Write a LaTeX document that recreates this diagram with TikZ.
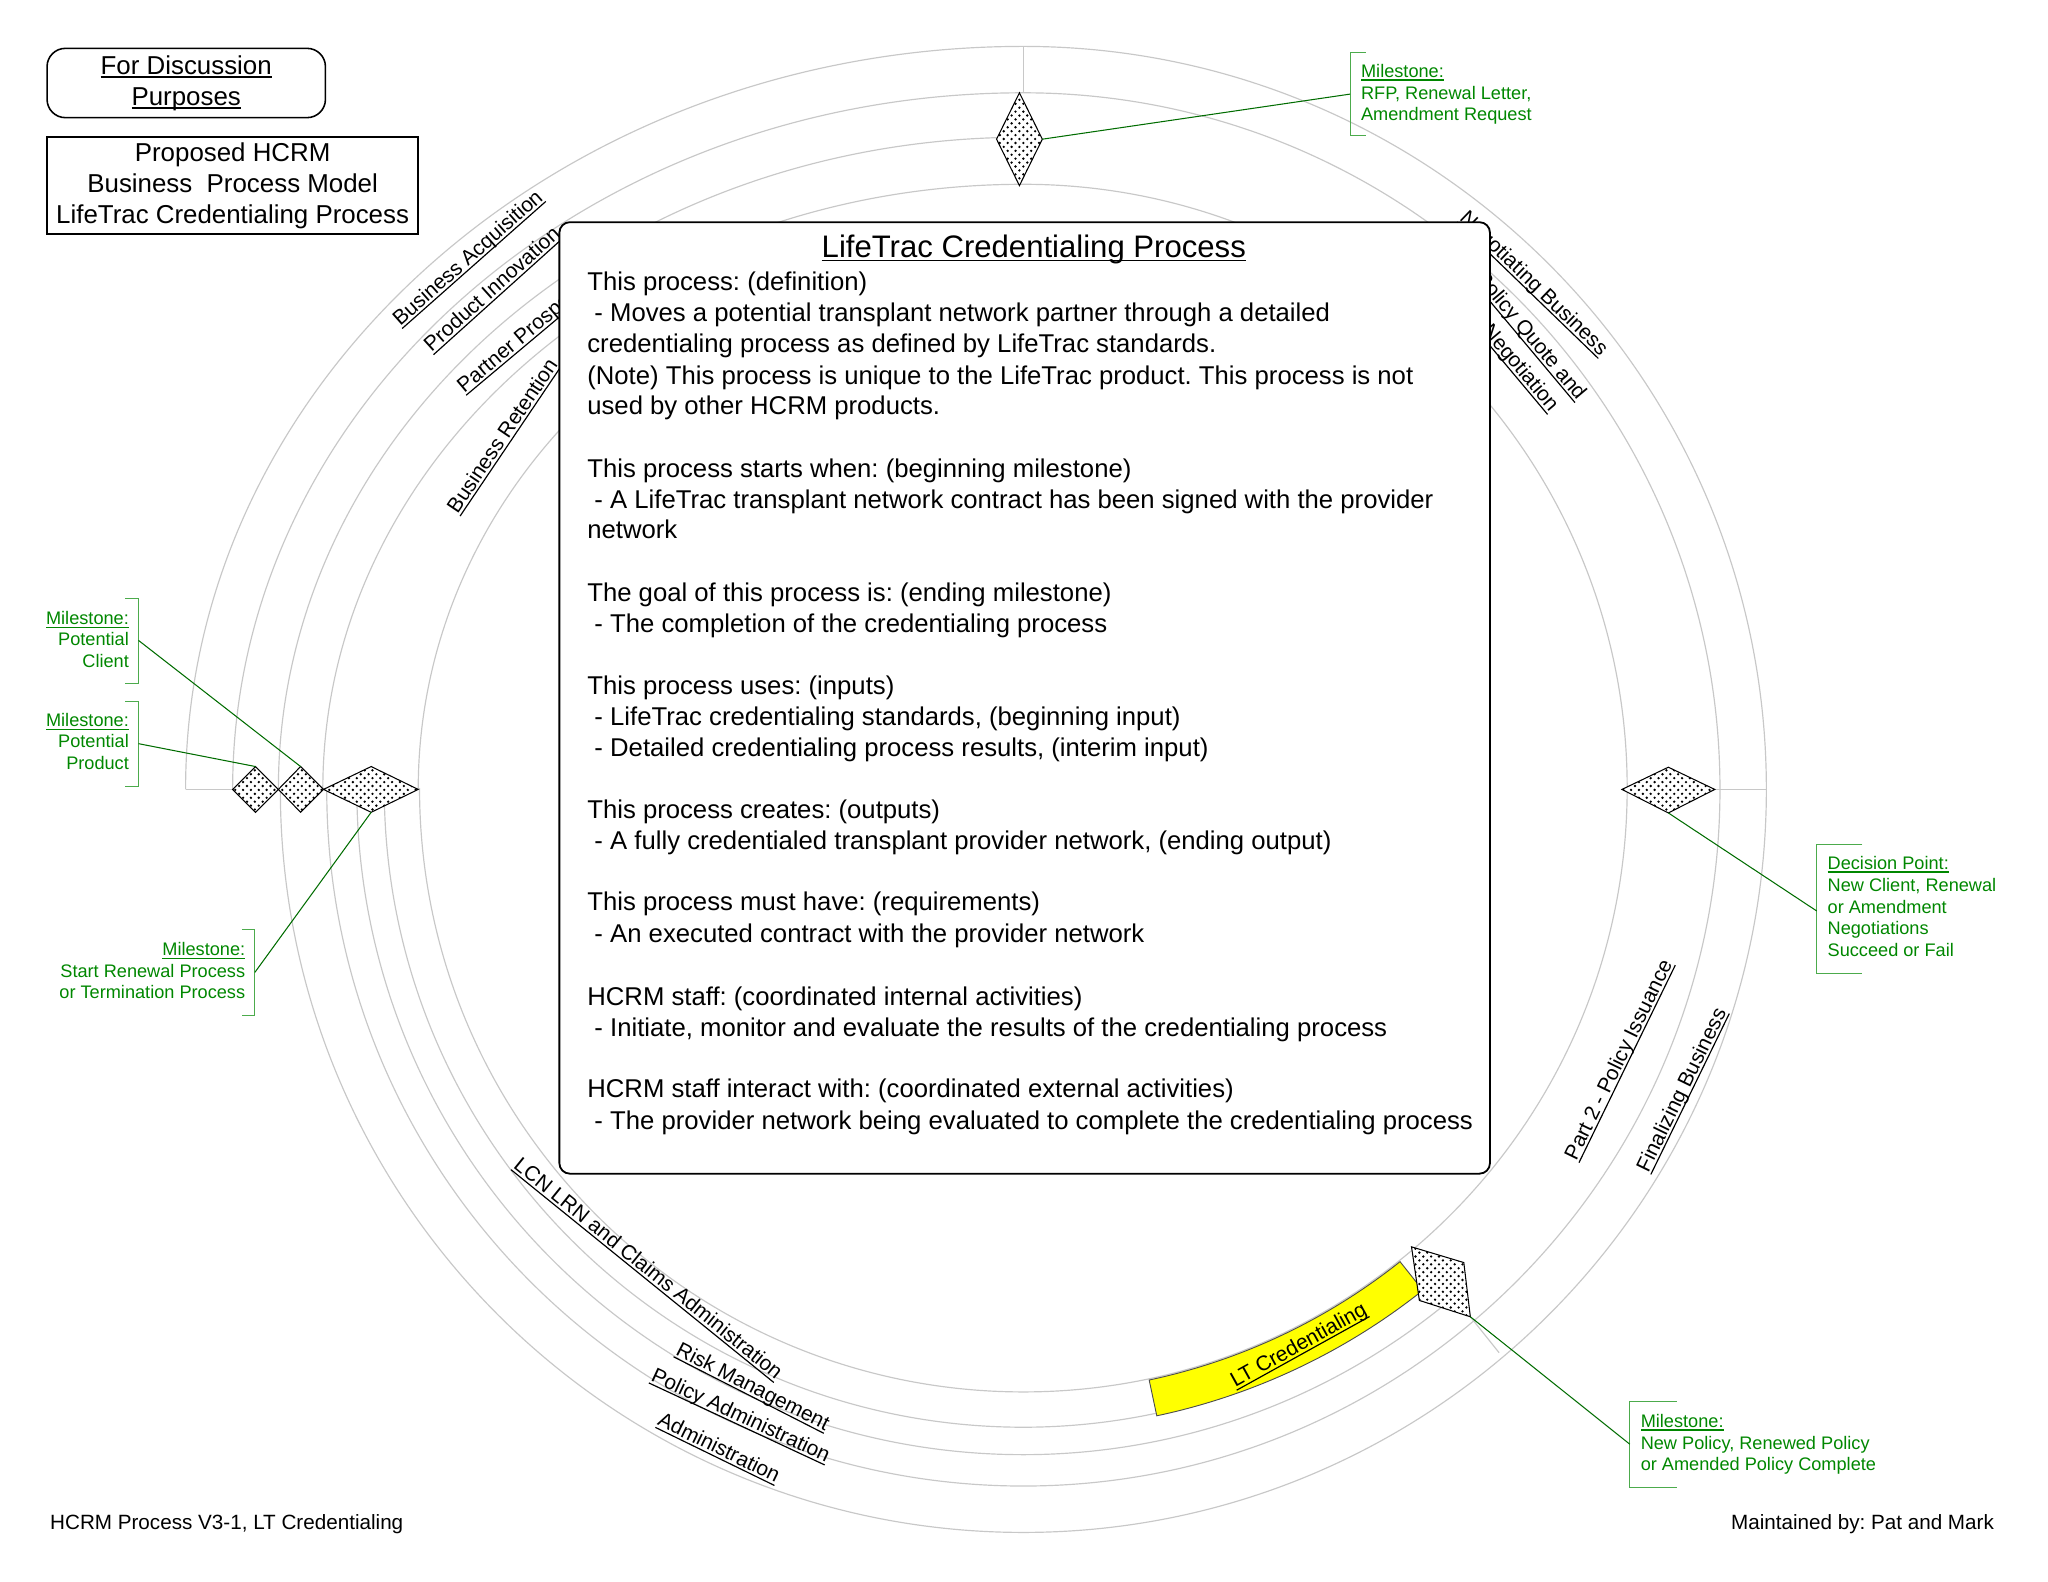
\documentclass[tikz,border=0pt]{standalone}
\usepackage{fontspec}
\setmainfont{Liberation Sans}
\usetikzlibrary{patterns}
\newcommand\myul[1]{\setbox0\hbox{#1}\leavevmode\rlap{\lower1.3pt\hbox{\vrule width\wd0 height0.45pt depth0pt}}\box0}
\definecolor{ring}{RGB}{200,200,200}
\definecolor{mgreen}{RGB}{0,135,0}
\definecolor{ltyellow}{RGB}{255,255,0}
\tikzset{
  ringline/.style={draw=ring,line width=0.45pt},
  dia/.style={draw=black,line width=0.4pt,preaction={fill=white},pattern=crosshatch dots},
  lead/.style={draw=mgreen!80!black,line width=0.4pt},
  brk/.style={draw=mgreen!70,line width=0.4pt},
  gtxt/.style={text=mgreen,font=\fontsize{6.95}{8.3}\selectfont,inner sep=0pt},
  rlab/.style={font=\fontsize{8}{9.6}\selectfont,inner sep=0pt},
  btxt/.style={font=\fontsize{9.83}{11.2}\selectfont,inner sep=0pt,anchor=base west},
}
\begin{document}
\frenchspacing
\begin{tikzpicture}[x=0.5pt,y=-0.5pt]
\useasboundingbox (0,0) rectangle (1567,1210.4);
% ---- rings
\coordinate (C) at (783,603);
\draw[ringline] (142,604) arc[start angle=180,end angle=270,x radius=641,y radius=568.5] arc[start angle=-90,end angle=180,radius=568.5];
\draw[ringline] (178,604) arc[start angle=180,end angle=270,x radius=605,y radius=533] arc[start angle=-90,end angle=180,radius=533];
\draw[ringline] (213,604) arc[start angle=180,end angle=268,x radius=570,y radius=499];
\draw[ringline] (273,603) arc[start angle=180,end angle=51,radius=510];
\draw[ringline] (294,603) arc[start angle=180,end angle=52,radius=489];
\draw[ringline] (247,604) arc[start angle=180,end angle=270,x radius=536,y radius=463] arc[start angle=-90,end angle=180,radius=462];
\draw[ringline] (320,604) arc[start angle=180,end angle=270,x radius=463,y radius=428];
% connector ticks
\coordinate (lt1) at (142,604); \coordinate (lt2) at (178,604);
\draw[ringline] (lt1) -- (lt2);
\coordinate (tt1) at (783,35.5); \coordinate (tt2) at (783,71);
\draw[ringline] (tt1) -- (tt2);
\coordinate (rt1) at (1312,604); \coordinate (rt2) at (1351,604);
\draw[ringline] (rt1) -- (rt2);
\coordinate (bt1) at (1125,1007.5); \coordinate (bt2) at (1147,1035);
\draw[ringline] (bt1) -- (bt2);
% ---- yellow band
\fill[ltyellow,draw=black!70,line width=0.35pt] ([shift={(783,603)}]78:491) arc[start angle=78,end angle=51.5,radius=491] -- ([shift={(783,603)}]51.5:463) arc[start angle=51.5,end angle=78,radius=463] -- cycle;
\node[rlab,rotate=29] (ltc) at (994,1030) {\myul{LT Credentialing}};
% ---- diamonds
\draw[dia] (780,71) coordinate (dT) -- (797.5,106.5) coordinate (dTr) -- (780,142) -- (762.5,106.5) -- cycle;
\draw[dia] (1241,604) -- (1276.5,587) -- (1312,604) -- (1276.5,622) coordinate (dRb) -- cycle;
\draw[dia] (1080,954) -- (1120,966) -- (1125,1007.5) coordinate (dLb) -- (1086,995) -- cycle;
\draw[dia] (178,604) -- (195.5,586.5) coordinate (d1t) -- (213,604) -- (195.5,621.5) -- cycle;
\draw[dia] (213,604) -- (230,586.5) coordinate (d2t) -- (247.5,604) -- (230,621.5) -- cycle;
\draw[dia] (247.5,604) -- (284,586.5) -- (320,604) -- (284,621.5) coordinate (d3b) -- cycle;
% ---- ring labels
\node[rlab,rotate=41.5,anchor=base west] (la1) at (306,250) {\myul{Business Acquisition}};
\node[rlab,rotate=42,anchor=base west] (la2) at (330,270) {\myul{Product Innovation}};
\node[rlab,rotate=40,anchor=base west] (la3) at (355,301) {\myul{Partner Prospecting}};
\node[rlab,rotate=56,anchor=base west] (la4) at (350,394) {\myul{Business Retention}};
\node[rlab,rotate=-44,anchor=base west] (lb1) at (1116,168) {\myul{Negotiating Business}};
\node[rlab,rotate=-50,anchor=base east] (lb2) at (1207,307) {\myul{Policy Quote and}};
\node[rlab,rotate=-50,anchor=base east] (lb3) at (1186,316) {\myul{Negotiation}};
\node[rlab,rotate=64,anchor=base west] (lc1) at (1206,889) {\myul{Part 2 - Policy Issuance}};
\node[rlab,rotate=64,anchor=base west] (lc2) at (1261,898) {\myul{Finalizing Business}};
\node[rlab,rotate=-39,anchor=base west] (ld1) at (392,893) {\myul{LCN LRN and Claims Administration}};
\node[rlab,rotate=-27,anchor=base west] (ld2) at (516,1036) {\myul{Risk Management}};
\node[rlab,rotate=-25,anchor=base west] (ld3) at (497,1056) {\myul{Policy Administration}};
\node[rlab,rotate=-26,anchor=base west] (ld4) at (502,1090) {\myul{Administration}};
% ---- main box
\node[draw=black,line width=0.7pt,fill=white,rounded corners=4pt,minimum width=356pt,minimum height=364pt,inner sep=0pt] (main) at (784,534) {};
\node[font=\fontsize{11.9}{13}\selectfont,inner sep=0pt,anchor=base] (title) at (791,197) {\myul{LifeTrac Credentialing Process}};
\node[btxt] (t1) at (449,222) {This process: (definition)};
\node[btxt] (t2) at (449,246) {\ - Moves a potential transplant network partner through a detailed};
\node[btxt] (t3) at (449,270) {credentialing process as defined by LifeTrac standards.};
\node[btxt] (t4) at (449,294) {(Note) This process is unique to the LifeTrac product. This process is not};
\node[btxt] (t5) at (449,317) {used by other HCRM products.};
\node[btxt] (t6) at (449,365) {This process starts when: (beginning milestone)};
\node[btxt] (t7) at (449,389) {\ - A LifeTrac transplant network contract has been signed with the provider};
\node[btxt] (t8) at (449,412) {network};
\node[btxt] (t9) at (449,460) {The goal of this process is: (ending milestone)};
\node[btxt] (t10) at (449,484) {\ - The completion of the credentialing process};
\node[btxt] (t11) at (449,531) {This process uses: (inputs)};
\node[btxt] (t12) at (449,555) {\ - LifeTrac credentialing standards, (beginning input)};
\node[btxt] (t13) at (449,579) {\ - Detailed credentialing process results, (interim input)};
\node[btxt] (t14) at (449,626) {This process creates: (outputs)};
\node[btxt] (t15) at (449,650) {\ - A fully credentialed transplant provider network, (ending output)};
\node[btxt] (t16) at (449,697) {This process must have: (requirements)};
\node[btxt] (t17) at (449,721) {\ - An executed contract with the provider network};
\node[btxt] (t18) at (449,769) {HCRM staff: (coordinated internal activities)};
\node[btxt] (t19) at (449,793) {\ - Initiate, monitor and evaluate the results of the credentialing process};
\node[btxt] (t20) at (449,840) {HCRM staff interact with: (coordinated external activities)};
\node[btxt] (t21) at (449,864) {\ - The provider network being evaluated to complete the credentialing process};
% ---- top-left boxes
\node[draw=black,line width=0.6pt,rounded corners=7pt,minimum width=106.5pt,minimum height=26.5pt,align=center,font=\fontsize{9.9}{11.8}\selectfont,inner sep=0pt] (disc) at (142.5,63.5) {\myul{For Discussion}\\\myul{Purposes}};
\node[draw=black,line width=0.6pt,minimum width=142pt,minimum height=37pt,align=center,font=\fontsize{9.9}{11.8}\selectfont,inner sep=0pt] (prop) at (178,142) {Proposed HCRM\\Business\ \ Process Model\\LifeTrac Credentialing Process};
% ---- green milestone notes
\draw[brk] (1045,40) -- (1033,40) -- (1033,104) -- (1045,104);
\coordinate (bT) at (1033,72);
\node[gtxt,anchor=base west] (g1a) at (1041,59) {\myul{Milestone:}};
\node[gtxt,anchor=base west] (g1b) at (1041,76) {RFP, Renewal Letter,};
\node[gtxt,anchor=base west] (g1c) at (1041,92) {Amendment Request};
\draw[lead] (dTr) -- (bT);
\draw[brk] (96,458) -- (106,458) -- (106,523) -- (96,523);
\coordinate (bPC) at (106,490);
\node[gtxt,anchor=base east] (g2a) at (99,478) {\myul{Milestone:}};
\node[gtxt,anchor=base east] (g2b) at (99,494) {Potential};
\node[gtxt,anchor=base east] (g2c) at (99,511) {Client};
\draw[lead] (bPC) -- (d2t);
\draw[brk] (96,537) -- (106,537) -- (106,602) -- (96,602);
\coordinate (bPP) at (106,569);
\node[gtxt,anchor=base east] (g3a) at (99,556) {\myul{Milestone:}};
\node[gtxt,anchor=base east] (g3b) at (99,572) {Potential};
\node[gtxt,anchor=base east] (g3c) at (99,589) {Product};
\draw[lead] (bPP) -- (d1t);
\draw[brk] (185,711) -- (195,711) -- (195,777) -- (185,777);
\coordinate (bSR) at (195,744);
\node[gtxt,anchor=base east] (g4a) at (188,731) {\myul{Milestone:}};
\node[gtxt,anchor=base east] (g4b) at (188,748) {Start Renewal Process};
\node[gtxt,anchor=base east] (g4c) at (188,764) {or Termination Process};
\draw[lead] (bSR) -- (d3b);
\draw[brk] (1425,646) -- (1390,646) -- (1390,745) -- (1425,745);
\coordinate (bDP) at (1390,697);
\node[gtxt,anchor=base west] (g5a) at (1398,665) {\myul{Decision Point:}};
\node[gtxt,anchor=base west] (g5b) at (1398,682) {New Client, Renewal};
\node[gtxt,anchor=base west] (g5c) at (1398,699) {or Amendment};
\node[gtxt,anchor=base west] (g5d) at (1398,715) {Negotiations};
\node[gtxt,anchor=base west] (g5e) at (1398,732) {Succeed or Fail};
\draw[lead] (dRb) -- (bDP);
\draw[brk] (1283,1072) -- (1247,1072) -- (1247,1138) -- (1283,1138);
\coordinate (bNP) at (1247,1105);
\node[gtxt,anchor=base west] (g6a) at (1255,1092) {\myul{Milestone:}};
\node[gtxt,anchor=base west] (g6b) at (1255,1109) {New Policy, Renewed Policy};
\node[gtxt,anchor=base west] (g6c) at (1255,1125) {or Amended Policy Complete};
\draw[lead] (dLb) -- (bNP);
% ---- footer
\node[font=\fontsize{7.9}{9}\selectfont,inner sep=0pt,anchor=base west] (f1) at (38,1170) {HCRM Process V3-1, LT Credentialing};
\node[font=\fontsize{7.9}{9}\selectfont,inner sep=0pt,anchor=base east] (f2) at (1526,1170) {Maintained by: Pat and Mark};
\end{tikzpicture}
\end{document}
